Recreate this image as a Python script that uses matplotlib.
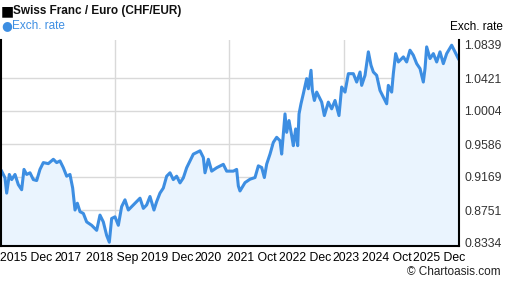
"""
    Swiss Franc / Euro (CHF/EUR) - 10 anos
"""

import matplotlib
matplotlib.use("Agg")
from matplotlib import pyplot as plt

plt.rcParams["font.family"] = ["Liberation Sans", "DejaVu Sans"]

# datas (ano fracionario) e cotacoes
anos = [
    2015.964, 2016.037, 2016.074, 2016.132, 2016.183, 2016.256, 2016.328, 2016.401,
    2016.452, 2016.510, 2016.583, 2016.656, 2016.729, 2016.801, 2016.874, 2016.983,
    2017.093, 2017.165, 2017.238, 2017.311, 2017.384, 2017.456, 2017.515, 2017.566,
    2017.617, 2017.675, 2017.748, 2017.820, 2017.929, 2018.039, 2018.111, 2018.184,
    2018.257, 2018.315, 2018.366, 2018.439, 2018.512, 2018.584, 2018.657, 2018.730,
    2018.803, 2018.912, 2018.985, 2019.058, 2019.130, 2019.203, 2019.290, 2019.349,
    2019.421, 2019.494, 2019.567, 2019.640, 2019.712, 2019.785, 2019.858, 2019.931,
    2020.004, 2020.077, 2020.149, 2020.222, 2020.295, 2020.368, 2020.404, 2020.477,
    2020.550, 2020.659, 2020.804, 2020.877, 2021.023, 2021.095,
    2021.132, 2021.168, 2021.278, 2021.387, 2021.496, 2021.569, 2021.642, 2021.700,
    2021.751, 2021.824, 2021.896, 2021.969, 2022.042, 2022.078, 2022.151, 2022.187,
    2022.238, 2022.297, 2022.333, 2022.384, 2022.428, 2022.457, 2022.500, 2022.551,
    2022.624, 2022.661, 2022.719, 2022.748, 2022.792, 2022.843, 2022.952, 2023.010,
    2023.097, 2023.170, 2023.243, 2023.330, 2023.388, 2023.461, 2023.534, 2023.643,
    2023.716, 2023.789, 2023.825, 2023.898, 2023.971, 2024.029, 2024.080, 2024.152,
    2024.225, 2024.298, 2024.371, 2024.407, 2024.480, 2024.516, 2024.567, 2024.626,
    2024.735, 2024.807, 2024.880, 2024.953, 2025.026, 2025.099, 2025.171, 2025.208,
    2025.244, 2025.317, 2025.390, 2025.463, 2025.535, 2025.608, 2025.681, 2025.790,
    2025.863, 2025.935,
]
cotacao = [
    0.9243, 0.9158, 0.8965, 0.9201, 0.9136, 0.9201, 0.9072, 0.9008,
    0.9265, 0.9201, 0.9222, 0.9136, 0.9124, 0.9265, 0.9351, 0.9338,
    0.9393, 0.9351, 0.9372, 0.9286, 0.9179, 0.9201, 0.9029, 0.8751,
    0.8837, 0.8730, 0.8708, 0.8601, 0.8558, 0.8494, 0.8687, 0.8601,
    0.8430, 0.8344, 0.8644, 0.8665, 0.8558, 0.8794, 0.8880, 0.8751,
    0.8794, 0.8858, 0.8901, 0.8772, 0.8815, 0.8922, 0.8751, 0.8858,
    0.8965, 0.9029, 0.9179, 0.9222, 0.9136, 0.9179, 0.9094, 0.9158,
    0.9286, 0.9372, 0.9458, 0.9479, 0.9500, 0.9415, 0.9222, 0.9393,
    0.9243, 0.9286, 0.9329, 0.9243, 0.9243, 0.9265,
    0.9056, 0.8992, 0.9098, 0.9141, 0.9162, 0.9310, 0.9289, 0.9162,
    0.9332, 0.9459, 0.9607, 0.9671, 0.9628, 0.9459, 0.9967, 0.9734,
    0.9883, 0.9692, 0.9565, 0.9777, 0.9565, 0.9967, 1.0095, 1.0222,
    1.0413, 1.0285, 1.0519, 1.0264, 1.0137, 1.0243, 1.0116, 0.9946,
    1.0116, 1.0031, 1.0137, 0.9946, 1.0307, 1.0243, 1.0476, 1.0476,
    1.0370, 1.0497, 1.0328, 1.0455, 1.0752, 1.0582, 1.0497, 1.0455,
    1.0264, 1.0179, 1.0095, 1.0328, 1.0243, 1.0476, 1.0730, 1.0624,
    1.0688, 1.0624, 1.0773, 1.0709, 1.0603, 1.0540, 1.0370, 1.0540,
    1.0815, 1.0667, 1.0730, 1.0624, 1.0752, 1.0603, 1.0730, 1.0836,
    1.0752, 1.0667,
]

# rotulos do eixo x e do eixo y
rotulos_x = ["2015 Dec", "2017", "2018 Sep", "2019 Dec", "2020",
             "2021 Oct", "2022 Dec", "2023", "2024 Oct", "2025 Dec"]
pos_x = [2016.50, 2017.41, 2018.37, 2019.57, 2020.47,
         2021.43, 2022.59, 2023.48, 2024.38, 2025.51]
grade_x = [2018.439, 2020.928, 2023.439]
ticks_y = [0.8334, 0.8751, 0.9169, 0.9586, 1.0004, 1.0421, 1.0839]

azul = "#3d8ee2"

fig = plt.figure(figsize=(5.07, 2.88), dpi=100)
ax = fig.add_axes([1 / 507, 42 / 288, 458 / 507, 206 / 288])

ax.fill_between(anos, cotacao, 0.5, color="#eaf4fe", linewidth=0)
ax.plot(anos, cotacao, color=azul, linewidth=2.2, solid_joinstyle="round")

ax.set_xlim(2015.95, 2025.95)
ax.set_ylim(0.8296, 1.0902)

ax.set_xticks(pos_x, rotulos_x)
ax.set_xticks(grade_x, minor=True)
ax.tick_params(axis="x", which="both", length=0, pad=4, labelsize=8.8, colors="black")
ax.grid(True, axis="x", which="minor", color="#d9d9d9", linewidth=1)

ax.yaxis.tick_right()
ax.set_yticks(ticks_y, [f"{v:.4f}" for v in ticks_y])
ax.tick_params(axis="y", length=0, pad=4, labelsize=8.8, labelcolor="#333333")
ax.grid(True, axis="y", color="#d9d9d9", linewidth=1)
ax.yaxis.get_gridlines()[-1].set_visible(False)
ax.set_axisbelow(True)

ax.spines["top"].set_visible(False)
for lado in ["left", "right", "bottom"]:
    ax.spines[lado].set_color("black")
    ax.spines[lado].set_linewidth(1.5)

# titulo e legenda
fig.text(1 / 507, 1 - 11 / 288, "■", fontsize=10, va="center", family=["DejaVu Sans"])
fig.text(13 / 507, 1 - 11 / 288, "Swiss Franc / Euro (CHF/EUR)", fontsize=8.5,
         fontweight="bold", va="center", color="#111111")
fig.text(1 / 507, 1 - 26 / 288, "●", fontsize=9, va="center", color=azul,
         family=["DejaVu Sans"])
fig.text(12 / 507, 1 - 26 / 288, "Exch. rate", fontsize=8.5, va="center", color=azul)
fig.text(503 / 507, 1 - 27 / 288, "Exch. rate", fontsize=8.5, va="center", ha="right")
fig.text(501 / 507, 1 - 272 / 288, "© Chartoasis.com", fontsize=8.5, va="center",
         ha="right", color="#222222")

plt.savefig("out.png", dpi=100)
